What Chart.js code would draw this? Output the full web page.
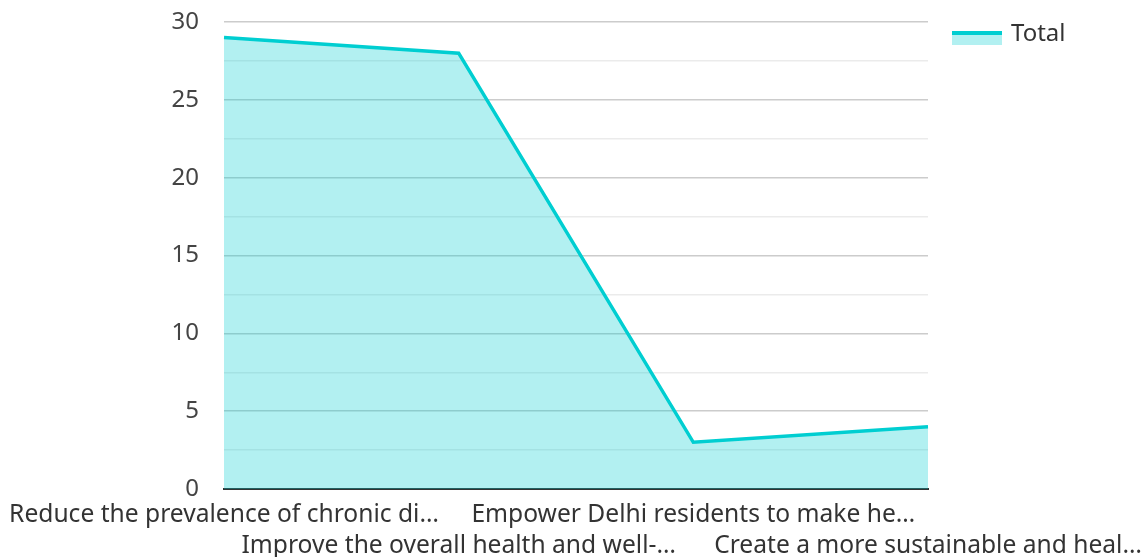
<!DOCTYPE html>
<html>
<head>
<meta charset="utf-8">
<script src="https://cdn.jsdelivr.net/npm/chart.js@4/dist/chart.umd.min.js"></script>
<style>
  html, body { margin: 0; padding: 0; background: #ffffff; }
  #wrap { width: 1146px; height: 557px; }
</style>
</head>
<body>
<div id="wrap"><canvas id="c" width="1146" height="557"></canvas></div>
<script>
// Goals (labels shown truncated, staggered across two rows)
const goals = [
  "Reduce the prevalence of chronic di…",
  "Improve the overall health and well-…",
  "Empower Delhi residents to make he…",
  "Create a more sustainable and heal…"
];
const totals = [29, 28, 3, 4];
const seriesName = "Total";
const yMax = 30;
const yStep = 2.5;

const lineColor = "#00CED1";
const fillColor = "rgba(0, 206, 209, 0.3)";
const fontFamily = "'Noto Sans', 'Open Sans', sans-serif";
const textSize = 24.6;

// Alternate labels between the first and second row
const staggered = goals.map((g, i) => (i % 2 === 0 ? g : ["", g]));

// Legend drawn at the upper right: line on top of a filled swatch
const sideLegend = {
  id: "sideLegend",
  afterDraw(chart) {
    const ctx = chart.ctx;
    const ds = chart.data.datasets[0];
    const x = 952, y = 31, w = 50, h = 14;
    ctx.save();
    ctx.fillStyle = ds.backgroundColor;
    ctx.fillRect(x, y, w, h);
    ctx.fillStyle = ds.borderColor;
    ctx.fillRect(x, y, w, 4);
    ctx.fillStyle = "#333333";
    ctx.font = "24px " + fontFamily;
    ctx.textBaseline = "middle";
    ctx.textAlign = "left";
    ctx.fillText(ds.label, 1011, 34);
    ctx.restore();
  }
};

new Chart(document.getElementById("c"), {
  type: "line",
  data: {
    labels: staggered,
    datasets: [{
      label: seriesName,
      data: totals,
      borderColor: lineColor,
      backgroundColor: fillColor,
      borderWidth: 3.5,
      fill: "origin",
      tension: 0,
      pointRadius: 0,
      pointHoverRadius: 0
    }]
  },
  options: {
    responsive: false,
    animation: false,
    layout: { padding: { top: 22, right: 218, left: 0, bottom: 0 } },
    plugins: {
      legend: { display: false },
      tooltip: { enabled: false }
    },
    scales: {
      x: {
        offset: false,
        grid: { display: false, drawTicks: false },
        border: { display: true, color: "#333333", width: 2 },
        ticks: {
          color: "#333333",
          font: { size: textSize, family: fontFamily, lineHeight: 1.27 },
          maxRotation: 0,
          minRotation: 0,
          autoSkip: false,
          padding: 10
        },
        afterFit(scale) {
          scale.height = 68;
          // end labels may overhang the plot edges
          scale.paddingLeft = 0;
          scale.paddingRight = 0;
        }
      },
      y: {
        min: 0,
        max: yMax,
        grid: {
          drawTicks: true,
          tickLength: 22,
          tickColor: "rgba(0,0,0,0)",
          color: (c) => (c.tick && c.tick.value % 5 === 0 ? "#cccccc" : "#ebebeb"),
          lineWidth: 1.5
        },
        border: { display: false },
        ticks: {
          stepSize: yStep,
          color: "#444444",
          font: { size: 24, family: fontFamily },
          padding: 3,
          callback: (v) => (v % 5 === 0 ? v : "")
        },
        afterFit(scale) { scale.width = 224; }
      }
    }
  },
  plugins: [sideLegend]
});
</script>
</body>
</html>
